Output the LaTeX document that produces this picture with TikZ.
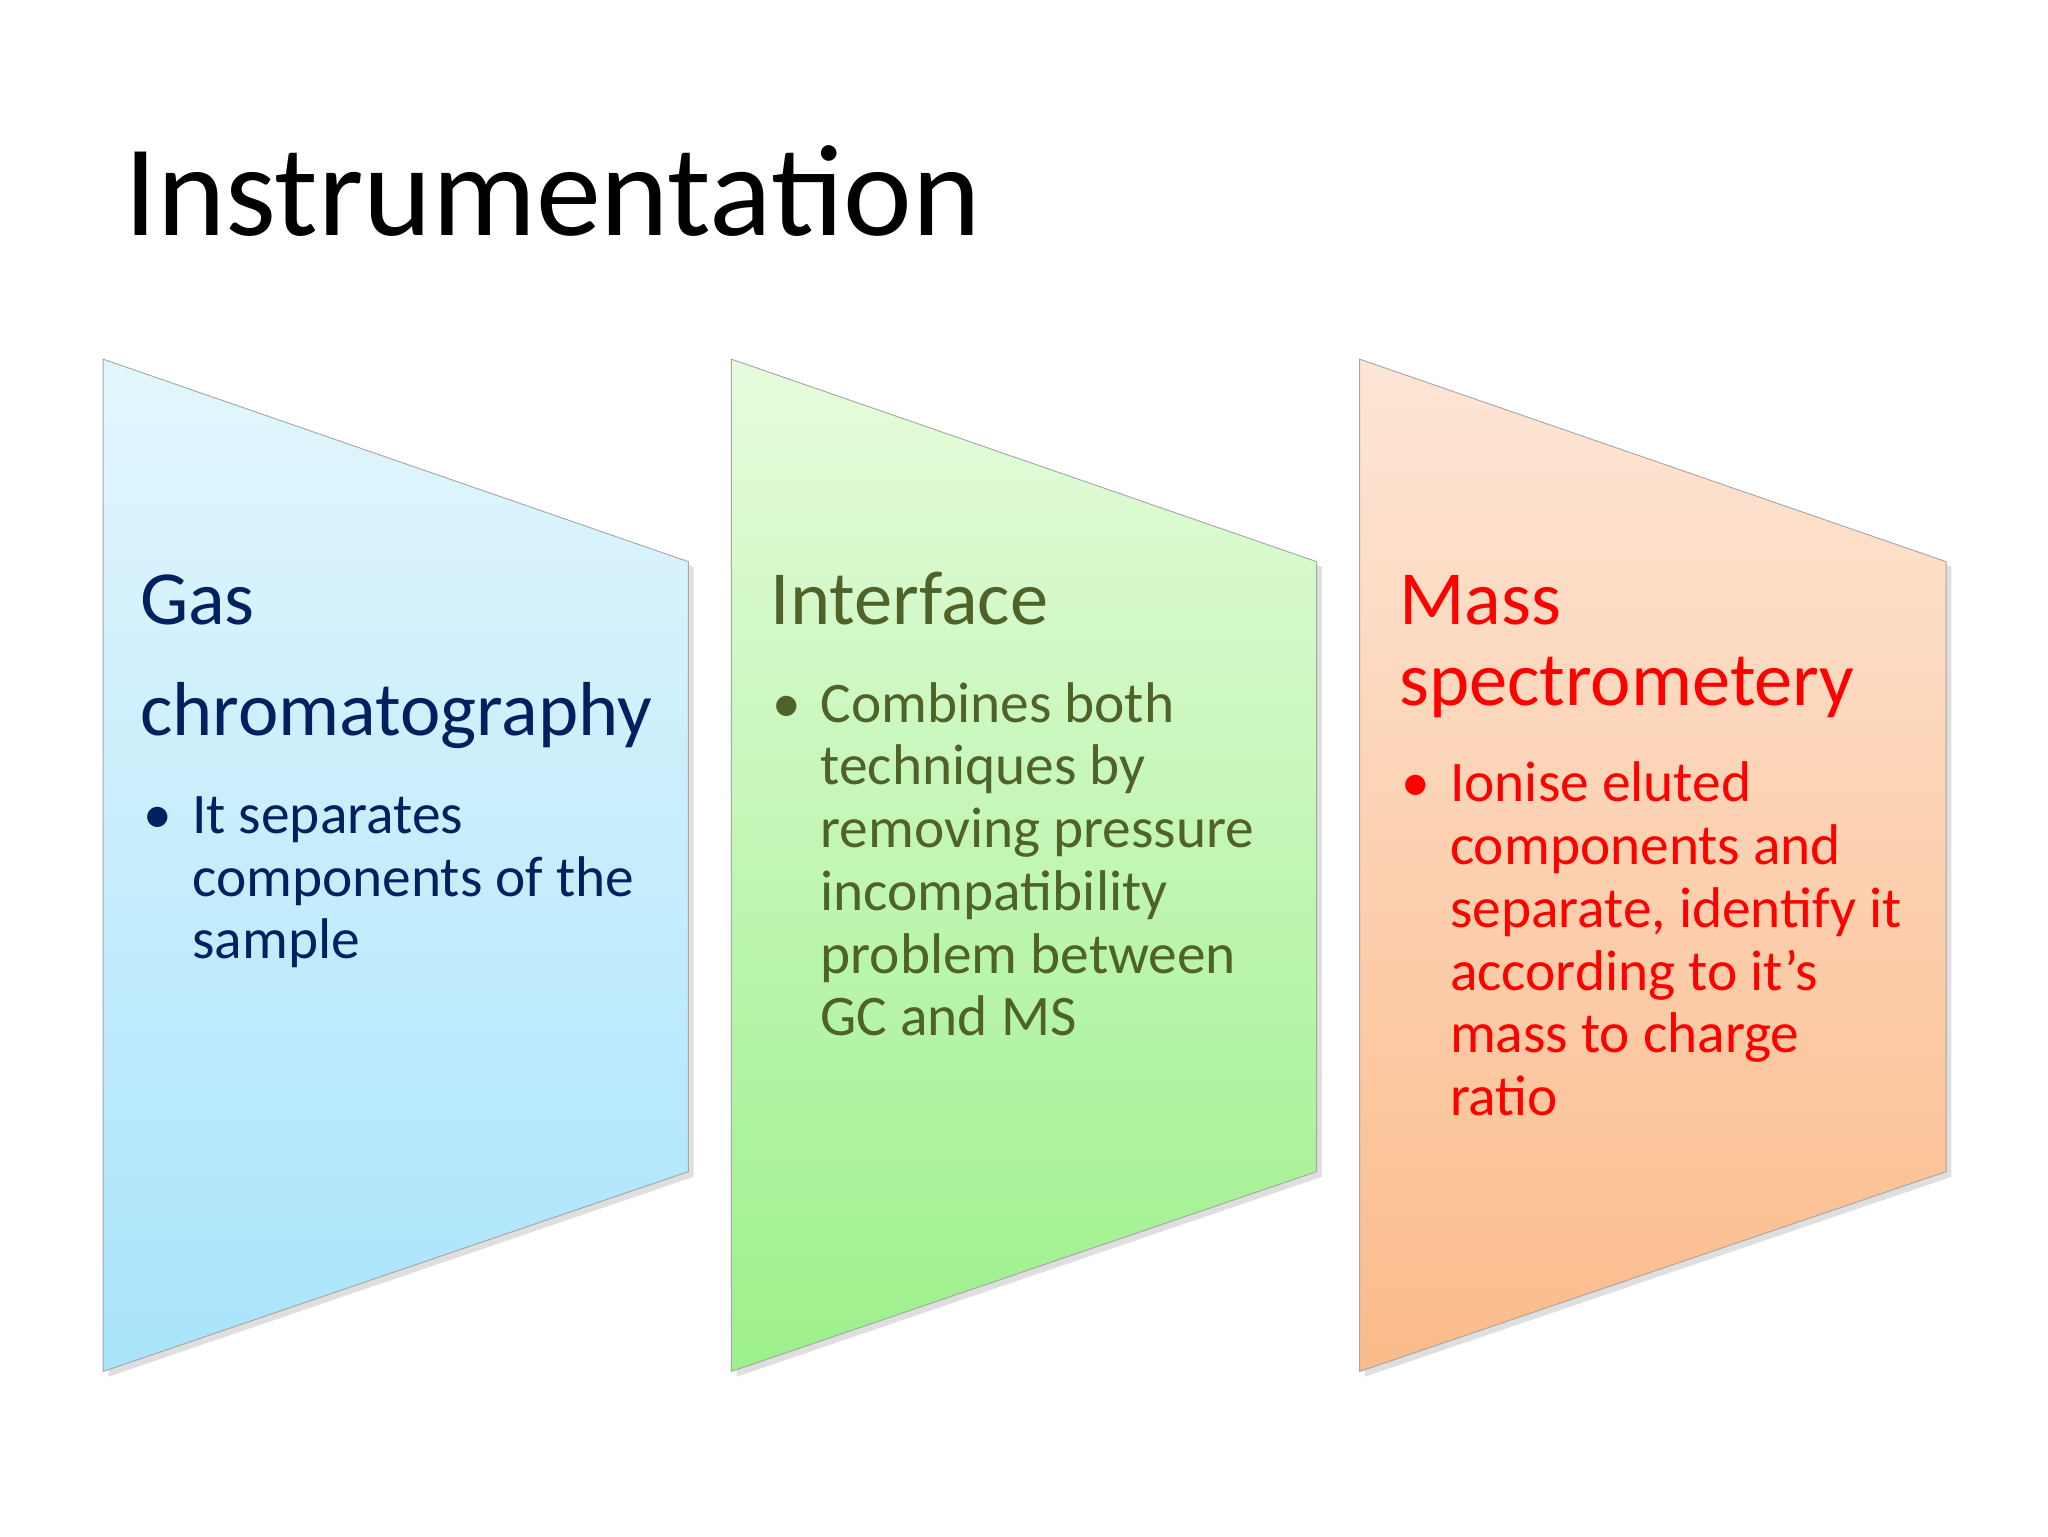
\documentclass[tikz,border=0pt]{standalone}
\usepackage{fontspec}
\setmainfont{Carlito}
\definecolor{tblue}{HTML}{002060}
\definecolor{tgreen}{HTML}{4F6228}
\definecolor{tred}{HTML}{FF0000}
\begin{document}
\begin{tikzpicture}[x=0.3mm,y=-0.3mm,
  panel/.style={draw=gray!70,line width=0.6pt},
  head/.style={anchor=base west,inner sep=0pt,font=\fontsize{50}{60}\selectfont},
  btxt/.style={anchor=base west,inner sep=0pt,font=\fontsize{37.5}{41}\selectfont},
  ttl/.style={anchor=base west,inner sep=0pt,font=\fontsize{85}{100}\selectfont}]
\useasboundingbox (0,0) rectangle (1568,1176);
\fill[white] (0,0) rectangle (1568,1176);
% shadows
\foreach \dx in {0,521,962}{}
\fill[gray!25] (83,279) -- (531,434) -- (531,901) -- (83,1054) -- cycle;
\fill[gray!25] (564,279) -- (1012,434) -- (1012,901) -- (564,1054) -- cycle;
\fill[gray!25] (1045,279) -- (1494,434) -- (1494,901) -- (1045,1054) -- cycle;
\shade[top color={rgb,255:red,227;green,246;blue,253},bottom color={rgb,255:red,169;green,228;blue,251}]
  (79,275) -- (527,430) -- (527,897) -- (79,1050) -- cycle;
\draw[panel] (79,275) -- (527,430) -- (527,897) -- (79,1050) -- cycle;
\shade[top color={rgb,255:red,230;green,252;blue,221},bottom color={rgb,255:red,156;green,240;blue,138}]
  (560,275) -- (1008,430) -- (1008,897) -- (560,1050) -- cycle;
\draw[panel] (560,275) -- (1008,430) -- (1008,897) -- (560,1050) -- cycle;
\shade[top color={rgb,255:red,253;green,230;blue,214},bottom color={rgb,255:red,251;green,187;blue,138}]
  (1041,275) -- (1490,430) -- (1490,897) -- (1041,1050) -- cycle;
\draw[panel] (1041,275) -- (1490,430) -- (1490,897) -- (1041,1050) -- cycle;
\node[ttl] (title) at (95,180) {Instrumentation};
% blue
\begin{scope}[tblue]
\node[head,text=tblue] (g1) at (107,478) {Gas};
\node[head,text=tblue] (g2) at (107,563) {chromatography};
\node[btxt,text=tblue] (gb) at (110,638) {\textbullet};
\node[btxt,text=tblue] (ga) at (147,638) {It separates};
\node[btxt,text=tblue] (gb2) at (147,686) {components of the};
\node[btxt,text=tblue] (gc) at (147,734) {sample};
\end{scope}
% green
\node[head,text=tgreen] (i1) at (590,478) {Interface};
\node[btxt,text=tgreen] (ib) at (591,553) {\textbullet};
\node[btxt,text=tgreen] (ia) at (628,553) {Combines both};
\node[btxt,text=tgreen] (ic) at (628,601) {techniques by};
\node[btxt,text=tgreen] (id) at (628,649) {removing pressure};
\node[btxt,text=tgreen] (ie) at (628,697) {incompatibility};
\node[btxt,text=tgreen] (if) at (628,745) {problem between};
\node[btxt,text=tgreen] (ig) at (628,793) {GC and MS};
% red
\node[head,text=tred] (m1) at (1071,478) {Mass};
\node[head,text=tred] (m2) at (1071,540) {spectrometery};
\node[btxt,text=tred] (mb) at (1073,614) {\textbullet};
\node[btxt,text=tred] (ma) at (1110,614) {Ionise eluted};
\node[btxt,text=tred] (mc) at (1110,662) {components and};
\node[btxt,text=tred] (md) at (1110,710) {separate, identify it};
\node[btxt,text=tred] (me) at (1110,758) {according to it’s};
\node[btxt,text=tred] (mf) at (1110,806) {mass to charge};
\node[btxt,text=tred] (mg) at (1110,854) {ratio};
\end{tikzpicture}
\end{document}
